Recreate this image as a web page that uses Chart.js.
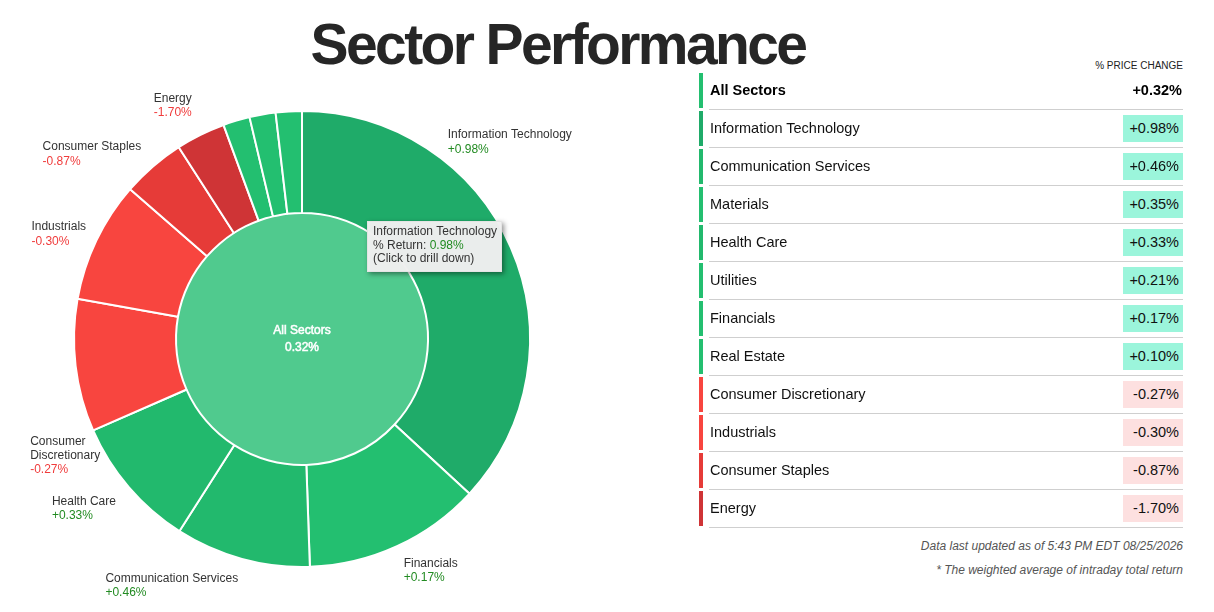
<!DOCTYPE html>
<html>
<head>
<meta charset="utf-8">
<script src="https://cdn.jsdelivr.net/npm/chart.js@4/dist/chart.umd.min.js"></script>
<style>
html,body{margin:0;padding:0;background:#fff;}
body{width:1214px;height:612px;overflow:hidden;position:relative;font-family:"Liberation Sans",Arial,Helvetica,sans-serif;}
#title{position:absolute;left:558px;top:16px;transform:translateX(-50%);font-size:57px;line-height:57px;font-weight:bold;letter-spacing:-2.6px;color:#262626;white-space:nowrap;}
#c{position:absolute;left:0;top:0;}
#hdr{position:absolute;right:31px;top:60px;font-size:10px;line-height:12px;color:#222;}
#table{position:absolute;left:699px;top:72px;width:484px;}
.row{position:relative;height:38px;}
.bar{position:absolute;left:0;top:1px;width:4px;height:35px;}
.name{position:absolute;left:11px;top:0;height:37px;line-height:37px;font-size:14.5px;color:#111;white-space:nowrap;}
.sep{position:absolute;left:10px;right:0;top:37px;height:1px;background:#cfcfcf;}
.val{position:absolute;right:0;top:5px;width:60px;height:27px;line-height:27px;text-align:right;padding-right:4px;box-sizing:border-box;font-size:14.5px;color:#111;}
.row.all .name,.row.all .val{font-weight:bold;color:#000;}
.row.all .val{top:0;height:37px;line-height:37px;padding-right:1px;width:auto;}
.note{position:absolute;right:31px;font-size:12px;line-height:14px;font-style:italic;color:#555;white-space:nowrap;}
</style>
</head>
<body>
<div id="title">Sector Performance</div>
<canvas id="c" width="700" height="612"></canvas>
<div id="hdr">% PRICE CHANGE</div>
<div id="table"></div>
<div class="note" style="top:539px">Data last updated as of 5:43 PM EDT 08/25/2026</div>
<div class="note" style="top:563px">* The weighted average of intraday total return</div>
<script>
// ---- data ----
const sectors = ['Information Technology','Financials','Communication Services','Health Care','Consumer Discretionary','Industrials','Consumer Staples','Energy','Utilities','Real Estate','Materials'];
const weights = [36.9, 12.6, 9.6, 9.4, 9.4, 8.6, 4.5, 3.5, 1.9, 1.85, 1.85];
const returns = [0.98, 0.17, 0.46, 0.33, -0.27, -0.30, -0.87, -1.70, 0.21, 0.10, 0.35];
const allSectorsLabel = 'All Sectors';
const allSectorsReturn = 0.32;

// ---- styles ----
const ringColors = ['#1fab69','#23bf70','#22b96d','#22b96d','#f8453f','#f8453f','#e63b38','#cf3436','#23bf70','#23bf70','#23bf70'];
const innerColor = '#50ca8e';
const labelLines = [null,null,null,null,['Consumer','Discretionary'],null,null,null,null,null,null];
const showLabel = [true,true,true,true,true,true,true,true,false,false,false];
// label placement tweaks: [angle deg clockwise from top or null, distance from ring]
const labelTweak = [[36.5,17],[156.3,25],[194.5,27],[227.6,24],[240,5],[295.9,12],[319,17],[334.7,30],null,null,null];
const defaultDist = 23;
const posColor = '#228b22', negColor = '#f03c3c';

function fmt(v){ return (v>0?'+':'') + v.toFixed(2) + '%'; }

// ---- table ----
const tbl = document.getElementById('table');
function addRow(name, val, barColor, cls, boxColor){
  const r = document.createElement('div'); r.className = 'row ' + (cls||'');
  r.innerHTML = '<div class="bar" style="background:'+barColor+'"></div><div class="name"></div><div class="val"></div><div class="sep"></div>';
  r.querySelector('.name').textContent = name;
  const v = r.querySelector('.val'); v.textContent = val;
  if (boxColor) v.style.background = boxColor;
  tbl.appendChild(r);
}
addRow(allSectorsLabel, fmt(allSectorsReturn), '#23bf70', 'all', null);
const order = sectors.map((s,i)=>i).sort((a,b)=>returns[b]-returns[a]);
order.forEach(i=>{
  addRow(sectors[i], fmt(returns[i]), ringColors[i], '', returns[i] >= 0 ? '#9bf5db' : '#fde0e0');
});

// ---- chart plugin ----
const FONT = '"Liberation Sans", Arial, sans-serif';
const labelPlugin = {
  id: 'sectorLabels',
  afterDraw(chart){
    const ctx = chart.ctx;
    const meta = chart.getDatasetMeta(0);
    ctx.save();
    ctx.font = '12px ' + FONT;
    ctx.textBaseline = 'middle';
    ctx.textAlign = 'left';
    meta.data.forEach((arc, i) => {
      if (!showLabel[i]) return;
      const p = arc.getProps(['x','y','startAngle','endAngle','outerRadius'], true);
      let a = (p.startAngle + p.endAngle) / 2;
      let dist = defaultDist;
      const tw = labelTweak[i];
      if (tw){ if (tw[0] !== null) a = tw[0]*Math.PI/180 - Math.PI/2; dist = tw[1]; }
      const R = p.outerRadius + dist;
      const ax = p.x + Math.cos(a)*R, ay = p.y + Math.sin(a)*R;
      const lines = (labelLines[i] || [sectors[i]]).slice();
      const valTxt = fmt(returns[i]);
      const all = lines.concat([valTxt]);
      const w = Math.max(...all.map(t => ctx.measureText(t).width));
      const left = Math.cos(a) >= 0 ? ax : ax - w;
      const n = all.length, lh = 14.3;
      all.forEach((t, k) => {
        ctx.fillStyle = (k === n-1) ? (returns[i] >= 0 ? posColor : negColor) : '#333333';
        ctx.fillText(t, left, ay - (n-1)*lh/2 + k*lh);
      });
    });
    // centre text
    const inner = chart.getDatasetMeta(1).data[0];
    ctx.textAlign = 'center';
    ctx.fillStyle = '#ffffff';
    ctx.font = '12px ' + FONT;
    ctx.lineWidth = 0.6; ctx.strokeStyle = 'rgba(255,255,255,0.9)';
    ctx.strokeText(allSectorsLabel, inner.x, inner.y - 8);
    ctx.fillText(allSectorsLabel, inner.x, inner.y - 8);
    const ct = allSectorsReturn.toFixed(2) + '%';
    ctx.strokeText(ct, inner.x, inner.y + 9);
    ctx.fillText(ct, inner.x, inner.y + 9);

    // tooltip for first sector
    const arc0 = meta.data[0];
    const bx = arc0.x + 65, by = arc0.y - 118, bw = 135, bh = 51;
    ctx.save();
    ctx.shadowColor = 'rgba(0,0,0,0.45)';
    ctx.shadowBlur = 5; ctx.shadowOffsetX = 2; ctx.shadowOffsetY = 2;
    ctx.fillStyle = 'rgba(242,242,242,0.97)';
    ctx.fillRect(bx, by, bw, bh);
    ctx.restore();
    ctx.strokeStyle = '#e4e4e4'; ctx.lineWidth = 1;
    ctx.strokeRect(bx + 0.5, by + 0.5, bw - 1, bh - 1);
    ctx.textAlign = 'left';
    ctx.font = '12px ' + FONT;
    ctx.fillStyle = '#333333';
    const tx = bx + 6;
    ctx.fillText(sectors[0], tx, by + 11);
    const pre = '% Return: ';
    ctx.fillText(pre, tx, by + 24.5);
    ctx.fillStyle = posColor;
    ctx.fillText(Math.abs(returns[0]).toFixed(2) + '%', tx + ctx.measureText(pre).width, by + 24.5);
    ctx.fillStyle = '#333333';
    ctx.fillText('(Click to drill down)', tx, by + 38);
    ctx.restore();
  }
};

new Chart(document.getElementById('c').getContext('2d'), {
  type: 'doughnut',
  data: {
    labels: sectors,
    datasets: [
      { data: weights, backgroundColor: ringColors, borderColor: '#ffffff', borderWidth: 2, weight: 102 },
      { data: [1], backgroundColor: innerColor, borderWidth: 0, weight: 126 }
    ]
  },
  options: {
    responsive: false,
    animation: false,
    events: [],
    cutout: 0,
    layout: { padding: { left: 73, right: 169, top: 110, bottom: 44 } },
    plugins: { legend: { display: false }, tooltip: { enabled: false } }
  },
  plugins: [labelPlugin]
});
</script>
</body>
</html>
